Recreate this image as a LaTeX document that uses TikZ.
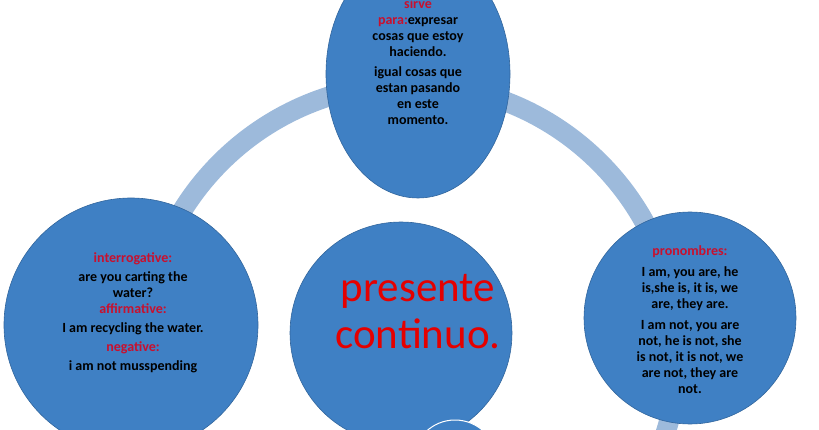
\documentclass[tikz,border=0pt]{standalone}
\usepackage{fontspec}
\usetikzlibrary{shapes.geometric}
\setmainfont{Carlito}
\definecolor{bub}{HTML}{3F80C4}
\definecolor{ringc}{HTML}{9DBADB}
\definecolor{lab}{HTML}{C8102E}
\begin{document}
\begin{tikzpicture}[x=1pt,y=-1pt,
  bubble/.style={fill=bub,draw=bub!80!black,line width=0.6pt},
  txt/.style={align=center,font=\bfseries\fontsize{14}{16}\selectfont,text=black},
  lbl/.style={text=lab}]
\useasboundingbox (0,0) rectangle (819,430);
\clip (0,0) rectangle (819,430);
\draw[ringc,line width=20pt] (410,352) circle[radius=268];
\node[ellipse,inner sep=0pt,minimum width=184pt,minimum height=248pt,bubble] (top) at (418,74) {};
\node[circle,inner sep=0pt,minimum size=254pt,bubble] (left) at (131,325) {};
\node[circle,inner sep=0pt,minimum size=222pt,bubble] (mid) at (401,333) {};
\node[circle,inner sep=0pt,minimum size=84pt,bubble,draw=white,line width=1pt] (small) at (455,462) {};
\node[circle,inner sep=0pt,minimum size=212pt,bubble] (right) at (690,318) {};
\node[txt] (ttxt) at (418,62) {\textcolor{lab}{sirve}\\\textcolor{lab}{para:}expresar\\cosas que estoy\\haciendo.\\[4pt]igual cosas que\\estan pasando\\en este\\momento.};
\node[txt] (ltxt) at (133,313) {\textcolor{lab}{interrogative:}\\[3pt]are you carting the\\water?\\\textcolor{lab}{affirmative:}\\[3pt]I am recycling the water.\\[3pt]\textcolor{lab}{negative:}\\[3pt]i am not musspending};
\node[align=center,text=red!90!black,font=\fontsize{43}{47}\selectfont] (mtxt) at (418,312) {presente\\continuo.};
\node[txt] (rtxt) at (690,320) {\textcolor{lab}{pronombres:}\\[5pt]I am, you are, he\\is,she is, it is, we\\are, they are.\\[5pt]I am not, you are\\not, he is not, she\\is not, it is not, we\\are not, they are\\not.};
\end{tikzpicture}
\end{document}
